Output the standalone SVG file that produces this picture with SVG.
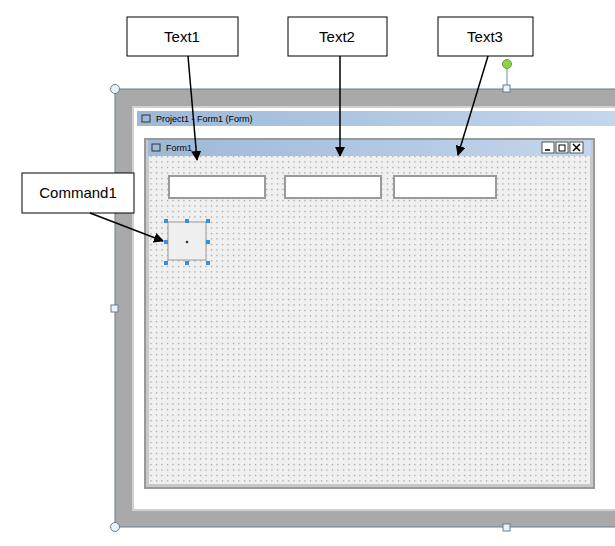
<svg xmlns="http://www.w3.org/2000/svg" width="615" height="546" viewBox="0 0 615 546">
<style>
.box{fill:#fff;stroke:#000;stroke-width:1}
.lbl{font-family:"Liberation Sans",Arial,sans-serif;font-size:15px;fill:#000;text-anchor:middle}
.cap{font-family:"Liberation Sans",Arial,sans-serif;font-size:9px;fill:#000}
.ar{stroke:#000;stroke-width:1.5;fill:none;marker-end:url(#ah)}
.h{fill:#3c8fd6}
.tb{fill:#fff;stroke:#9a9a9a;stroke-width:2}
</style>
<defs>
<marker id="ah" markerWidth="10" markerHeight="10" refX="9" refY="5" orient="auto" markerUnits="userSpaceOnUse"><path d="M0,0 L10,5 L0,10 z" fill="#000"/></marker>
<pattern id="dots" width="5.5" height="5.5" patternUnits="userSpaceOnUse"><rect width="5.5" height="5.5" fill="#f0f0f0"/><rect x="2" y="2" width="1" height="1" fill="#666"/></pattern>
<linearGradient id="tbar" x1="0" x2="1"><stop offset="0" stop-color="#9db8d8"/><stop offset="1" stop-color="#c3d6ec"/></linearGradient>
</defs>
<rect width="615" height="546" fill="#fff"/>
<g id="designer">
<rect x="115" y="89" width="505" height="438" fill="#a9a9a9" stroke="#6a7f8f" stroke-width="1"/>
<rect x="133" y="107" width="490" height="403" fill="#fff" stroke="#d0d0d0" stroke-width="2"/>
<rect x="137" y="111" width="480" height="15" fill="url(#tbar)"/>
<text class="cap" x="156" y="122">Project1 - Form1 (Form)</text>
<rect x="142" y="115" width="8" height="7" fill="none" stroke="#333"/>
</g>
<g id="form1">
<rect x="145" y="139" width="449" height="349" fill="#c8c8c8" stroke="#999" stroke-width="2"/>
<rect x="148" y="140" width="443" height="16" fill="url(#tbar)"/>
<rect x="152" y="144" width="8" height="7" fill="none" stroke="#333"/>
<text class="cap" x="166" y="151">Form1</text>
<rect x="542" y="142" width="12" height="11" fill="#fff" stroke="#555"/>
<line x1="545" y1="150" x2="550" y2="150" stroke="#000" stroke-width="1.5"/>
<rect x="556" y="142" width="12" height="11" fill="#fff" stroke="#555"/>
<rect x="559" y="145" width="6" height="6" fill="none" stroke="#000"/>
<rect x="570" y="142" width="13" height="11" fill="#fff" stroke="#555"/>
<path d="M573,144 L580,151 M580,144 L573,151" stroke="#000" stroke-width="1.5"/>
<rect x="149" y="156" width="441" height="328" fill="url(#dots)"/>
</g>
<g id="text1"><rect class="tb" x="169" y="176" width="96" height="22"/></g>
<g id="text2"><rect class="tb" x="285" y="176" width="96" height="22"/></g>
<g id="text3"><rect class="tb" x="394" y="176" width="102" height="22"/></g>
<g id="command1">
<rect x="168" y="222" width="38" height="38" fill="#efefef" stroke="#999" stroke-width="1"/>
<circle cx="187" cy="242" r="1.3" fill="#333"/>
<rect class="h" x="164" y="219" width="4" height="4"/><rect class="h" x="185" y="219" width="4" height="4"/><rect class="h" x="206" y="219" width="4" height="4"/>
<rect class="h" x="164" y="240" width="4" height="4"/><rect class="h" x="206" y="240" width="4" height="4"/>
<rect class="h" x="164" y="261" width="4" height="4"/><rect class="h" x="185" y="261" width="4" height="4"/><rect class="h" x="206" y="261" width="4" height="4"/>
</g>
<g id="handles" fill="#e8f2fa" stroke="#6a7f8f">
<line x1="507" y1="68" x2="507" y2="86" stroke="#6a8fb0"/>
<circle cx="507" cy="64" r="4.5" fill="#8ed14a" stroke="#6aa03a"/>
<rect x="503" y="85" width="7" height="7"/>
<circle cx="115" cy="89" r="4.5"/>
<circle cx="115" cy="527" r="4.5"/>
<rect x="111" y="305" width="7" height="7"/>
<rect x="503" y="524" width="7" height="7"/>
</g>
<g id="lbl-text1"><rect class="box" x="127" y="17" width="111" height="39"/><text class="lbl" x="182" y="42">Text1</text></g>
<g id="lbl-text2"><rect class="box" x="288" y="17" width="99" height="39"/><text class="lbl" x="337" y="42">Text2</text></g>
<g id="lbl-text3"><rect class="box" x="438" y="17" width="95" height="39"/><text class="lbl" x="485" y="42">Text3</text></g>
<g id="lbl-command1"><rect class="box" x="22" y="173" width="112" height="40"/><text class="lbl" x="78" y="198">Command1</text></g>
<g id="connectors">
<line class="ar" x1="188" y1="56" x2="197" y2="160"/>
<line class="ar" x1="340" y1="56" x2="340" y2="156"/>
<line class="ar" x1="488" y1="56" x2="458" y2="155"/>
<line class="ar" x1="90" y1="213" x2="163" y2="241"/>
</g>
</svg>
